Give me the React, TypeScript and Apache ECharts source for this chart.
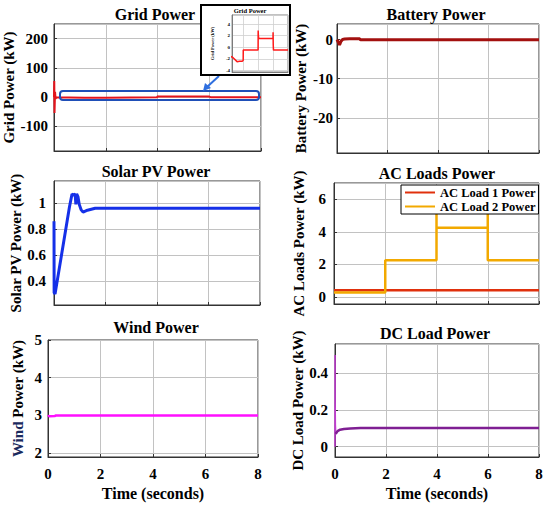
import React, { useEffect, useRef } from "react";
import * as echarts from "echarts";

const FONT = '"Liberation Serif", "Times New Roman", Times, serif';

// ---- Data (time in seconds, power in kW) ----
const gridT = [0, 0.01, 0.02, 0.04, 0.06, 0.1, 0.57, 1.17, 1.5, 1.83, 1.99, 2.0, 3.99, 4.0, 4.03, 4.08, 5.99, 6.0, 6.02, 6.05, 8];
const gridP = [0, 55, -55, 18, -6, -1.5, -1.74, -2.5, -2.45, -2.45, -2.3, -0.5, -0.5, 2.9, 2.0, 1.5, 1.5, 2.6, 0.5, -0.5, -0.5];

const batT = [0, 0.03, 0.1, 0.16, 0.22, 0.3, 0.5, 0.9, 0.93, 8];
const batP = [0, -0.4, -1.35, -0.4, 0.05, 0.15, 0.2, 0.2, -0.05, -0.05];

const solarT = [0, 0.005, 0.04, 0.3, 0.6, 0.7, 0.76, 0.82, 0.85, 0.88, 0.93, 0.98, 1.05, 1.13, 1.3, 1.6, 8];
const solarP = [0.86, 0.31, 0.3, 0.61, 0.97, 1.07, 1.06, 1.07, 0.99, 1.07, 1.05, 0.99, 0.95, 0.93, 0.945, 0.96, 0.96];

const ac1T = [0, 8];
const ac1P = [0.42, 0.42];
const ac2T = [0, 2, 2, 4, 4, 4, 6, 6, 6, 8];
const ac2P = [0.28, 0.28, 2.25, 2.25, 6.0, 4.25, 4.25, 6.0, 2.25, 2.25];

const windT = [0, 0.02, 0.06, 0.25, 0.3, 8];
const windP = [2.97, 2.985, 2.98, 2.985, 3.0, 3.0];

const dcTransT = [0, 0.002, 0.006, 0.015, 0.03, 0.05];
const dcTransP = [0, 0.5, 0.25, 0.12, 0.07, 0.075];
const dcT = [0.03, 0.05, 0.1, 0.2, 0.35, 0.6, 1.0, 8];
const dcP = [0.07, 0.075, 0.085, 0.093, 0.097, 0.1, 0.102, 0.102];

const zip = (t: number[], v: number[]) => t.map((x, i) => [x, v[i]]);

const tickFont = { fontFamily: FONT, fontWeight: "bold" as const, color: "#000" };

function xAx(gridIndex: number, showLabels: boolean) {
  return {
    type: "value",
    gridIndex,
    min: 0,
    max: 8,
    minInterval: 2,
    maxInterval: 2,
    name: showLabels ? "Time (seconds)" : "",
    nameLocation: "middle",
    nameGap: 28,
    nameTextStyle: { ...tickFont, fontSize: 16 },
    axisLine: { show: true, onZero: false, lineStyle: { color: "#333", width: 1 } },
    axisTick: { show: true, inside: true, length: 3, lineStyle: { color: "#333" } },
    axisLabel: { show: showLabels, margin: 9, fontSize: 15, ...tickFont },
    splitLine: { show: true, lineStyle: { color: "#c2c2c2", width: 1 } },
  };
}

function yAx(gridIndex: number, min: number, max: number, step: number, name: string, nameGap: number, margin: number, rich?: any) {
  return {
    type: "value",
    gridIndex,
    min,
    max,
    minInterval: step,
    maxInterval: step,
    name,
    nameLocation: "middle",
    nameGap,
    nameTextStyle: { ...tickFont, fontSize: 15, rich },
    axisLine: { show: true, onZero: false, lineStyle: { color: "#333", width: 1 } },
    axisTick: { show: true, inside: true, length: 3, lineStyle: { color: "#333" } },
    axisLabel: { margin, fontSize: 15, ...tickFont, showMinLabel: false, showMaxLabel: false },
    splitLine: { show: true, lineStyle: { color: "#c2c2c2", width: 1 } },
  };
}

const gridBox = { show: true, borderColor: "#333", borderWidth: 1, backgroundColor: "#fff" };

function line(i: number, data: number[][], color: string, width: number, name?: string) {
  return {
    type: "line",
    name,
    xAxisIndex: i,
    yAxisIndex: i,
    data,
    symbol: "none",
    showSymbol: false,
    color,
    lineStyle: { color, width },
  };
}

function title(text: string, x: number, top: number) {
  return {
    text,
    left: x,
    top,
    textAlign: "center",
    padding: 0,
    textStyle: { fontFamily: FONT, fontWeight: "bold", fontSize: 16, color: "#000" },
  };
}

export default function App() {
  const mainRef = useRef<HTMLDivElement>(null);
  const insetRef = useRef<HTMLDivElement>(null);

  useEffect(() => {
    const chart = echarts.init(mainRef.current!, undefined, { renderer: "svg" });
    chart.setOption({
      animation: false,
      textStyle: { fontFamily: FONT },
      title: [
        title("Grid Power", 155, 6),
        title("Battery Power", 436, 6),
        title("Solar PV Power", 156, 163),
        title("AC Loads Power", 437, 165),
        title("Wind Power", 156, 319),
        title("DC Load Power", 435, 325),
      ],
      grid: [
        { left: 54, top: 24, width: 207, height: 127, ...gridBox },
        { left: 337, top: 24, width: 202, height: 129, ...gridBox },
        { left: 54, top: 181, width: 206, height: 124, ...gridBox },
        { left: 334, top: 183, width: 205, height: 121, ...gridBox },
        { left: 48, top: 340, width: 210, height: 117, ...gridBox },
        { left: 335, top: 344, width: 204, height: 113, ...gridBox },
      ],
      xAxis: [xAx(0, false), xAx(1, false), xAx(2, false), xAx(3, false), xAx(4, true), xAx(5, true)],
      yAxis: [
        yAx(0, -185, 250, 100, "Grid Power (kW)", 31, 6),
        yAx(1, -29, 4, 10, "Battery Power (kW)", 29, 4),
        yAx(2, 0.215, 1.17, 0.2, "Solar PV Power (kW)", 30, 8),
        yAx(3, -0.43, 7, 2, "AC Loads Power (kW)", 28, 8),
        {
          ...yAx(4, 1.9, 5, 1, "{a|Wind} Power (kW)", 23, 6, {
            a: { color: "#1b2a5e", fontFamily: FONT, fontWeight: "bold", fontSize: 15 },
          }),
          axisLabel: { margin: 6, fontSize: 15, ...tickFont, showMinLabel: false, showMaxLabel: true },
        },
        yAx(5, -0.056, 0.56, 0.2, "DC Load Power (kW)", 29, 7),
      ],
      legend: {
        left: 401,
        top: 185,
        orient: "vertical",
        icon: "rect",
        itemWidth: 30,
        itemHeight: 2,
        itemGap: 1,
        padding: [1, 3, 1, 4],
        backgroundColor: "#fff",
        borderColor: "#000",
        borderWidth: 1,
        borderRadius: 0,
        textStyle: { fontFamily: FONT, fontWeight: "bold", fontSize: 12.5, lineHeight: 11, color: "#000" },
        data: ["AC Load 1 Power", "AC Load 2 Power"],
      },
      series: [
        line(0, zip(gridT, gridP), "#e3141c", 2),
        line(1, zip(batT, batP), "#a3100f", 3),
        line(2, zip(solarT, solarP), "#1530e8", 3),
        line(3, zip(ac1T, ac1P), "#e0300c", 2.5, "AC Load 1 Power"),
        line(3, zip(ac2T, ac2P), "#f2a900", 2.5, "AC Load 2 Power"),
        line(4, zip(windT, windP), "#ff10ff", 2.5),
        line(5, zip(dcTransT, dcTransP), "#c13ad0", 1.5),
        line(5, zip(dcT, dcP), "#7f1f93", 2.5),
      ],
      graphic: [
        {
          type: "rect",
          z: 10,
          shape: { x: 60, y: 91, width: 199, height: 9, r: 3 },
          style: { fill: "none", stroke: "#1f4fb8", lineWidth: 2 },
        },
        {
          type: "line",
          z: 10,
          shape: { x1: 219, y1: 76, x2: 207, y2: 87 },
          style: { stroke: "#2f6fdf", lineWidth: 2 },
        },
        {
          type: "polygon",
          z: 10,
          shape: { points: [[203, 91], [205, 83], [211, 88]] },
          style: { fill: "#2f6fdf" },
        },
      ],
    });

    const inset = echarts.init(insetRef.current!, undefined, { renderer: "svg" });
    const small = { fontFamily: FONT, fontWeight: "bold" as const, color: "#000" };
    inset.setOption({
      animation: false,
      title: {
        text: "Grid Power",
        left: 48,
        top: 1,
        textAlign: "center",
        padding: 0,
        textStyle: { ...small, fontSize: 6.5 },
      },
      grid: { left: 13, right: 1, top: 9, bottom: 2, show: true, borderColor: "#666", borderWidth: 0.8, backgroundColor: "#fff" },
      xAxis: {
        type: "value",
        min: 0.5,
        max: 8,
        minInterval: 2,
        maxInterval: 2,
        axisLine: { show: true, onZero: false, lineStyle: { color: "#666", width: 0.8 } },
        axisTick: { show: false },
        axisLabel: { show: false },
        splitLine: { show: true, lineStyle: { color: "#cfcfcf", width: 0.8 } },
      },
      yAxis: {
        type: "value",
        min: -4.3,
        max: 5.6,
        minInterval: 2,
        maxInterval: 2,
        name: "Grid Power (kW)",
        nameLocation: "middle",
        nameGap: 6,
        nameTextStyle: { ...small, fontSize: 4.5 },
        axisLine: { show: true, onZero: false, lineStyle: { color: "#666", width: 0.8 } },
        axisTick: { show: false },
        axisLabel: { margin: 2, fontSize: 5, ...small, showMinLabel: false, showMaxLabel: false },
        splitLine: { show: true, lineStyle: { color: "#cfcfcf", width: 0.8 } },
      },
      series: [
        {
          type: "line",
          data: zip(gridT, gridP),
          symbol: "none",
          showSymbol: false,
          color: "#ff1a1a",
          lineStyle: { color: "#ff1a1a", width: 1.5 },
        },
      ],
    });

    return () => {
      chart.dispose();
      inset.dispose();
    };
  }, []);

  return (
    <div style={{ position: "fixed", left: 0, top: 0, width: 550, height: 509, background: "#fff" }}>
      <div ref={mainRef} style={{ position: "absolute", left: 0, top: 0, width: 550, height: 509 }} />
      <div
        style={{
          position: "absolute",
          left: 200,
          top: 4,
          width: 91,
          height: 72,
          border: "2px solid #000",
          boxSizing: "border-box",
          background: "#fff",
        }}
      >
        <div ref={insetRef} style={{ width: 87, height: 68 }} />
      </div>
    </div>
  );
}
